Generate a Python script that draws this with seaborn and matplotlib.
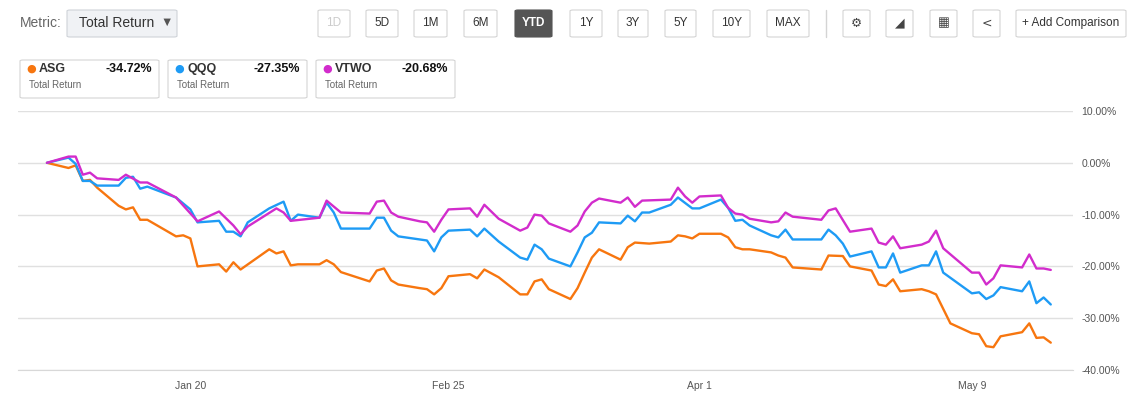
import pandas as pd
import matplotlib
matplotlib.use("Agg")
import matplotlib.pyplot as plt
from matplotlib.patches import FancyBboxPatch
import seaborn as sns

# days since 2021-12-31, total return in %
asg_days = [0, 3, 4, 5, 6, 7, 10, 11, 12, 13, 14, 18, 19, 20, 21, 24, 25, 26, 27, 31, 32, 33, 34, 35, 38, 39, 40, 41,
            45, 46, 47, 48, 49, 52, 53, 54, 55, 56, 59, 60, 61, 63, 66, 67, 68, 69, 70, 73, 74, 75, 76, 77, 80, 81, 82,
            84, 87, 88, 89, 90, 91, 94, 95, 96, 97, 98, 101, 102, 103, 104, 108, 109, 111, 112, 115, 116, 117, 118,
            119, 122, 123, 124, 126, 129, 130, 131, 132, 133, 136, 137, 138, 139, 140]
asg_vals = [0, -1, -0.5, -3.5, -3.3, -4.8, -8.3, -9, -8.6, -11, -11, -14.2, -14, -14.6, -20, -19.6, -21, -19.2, -20.6,
            -16.7, -17.5, -17.1, -19.8, -19.6, -19.6, -18.8, -19.6, -21.1, -22.9, -20.8, -20.4, -22.7, -23.5, -24.2,
            -24.4, -25.4, -24.2, -21.9, -21.5, -22.3, -20.6, -22.1, -25.4, -25.4, -22.9, -22.5, -24.4, -26.3, -24.2,
            -21.2, -18.3, -16.7, -18.7, -16.3, -15.4, -15.6, -15.2, -14, -14.2, -14.6, -13.7, -13.7, -14.4, -16.3,
            -16.7, -16.7, -17.3, -17.9, -18.3, -20.2, -20.6, -17.9, -18, -20, -20.8, -23.5, -23.8, -22.5, -24.8,
            -24.4, -24.8, -25.4, -31, -32.9, -33.1, -35.4, -35.6, -33.5, -32.7, -31, -33.8, -33.7, -34.72]

qqq_days = [0, 3, 4, 5, 6, 7, 10, 11, 12, 13, 14, 18, 20, 21, 24, 25, 26, 27, 28, 31, 33, 34, 35, 38, 39, 40, 41, 45,
            46, 47, 48, 49, 52, 53, 54, 55, 56, 59, 60, 61, 63, 66, 67, 68, 69, 70, 73, 74, 75, 76, 77, 80, 81, 82, 83,
            84, 87, 88, 90, 91, 94, 95, 96, 97, 98, 101, 102, 103, 104, 108, 109, 110, 111, 112, 115, 116, 117, 118,
            119, 122, 123, 124, 125, 129, 130, 131, 132, 133, 136, 137, 138, 139, 140]
qqq_vals = [0, 1, -0.2, -3.5, -3.5, -4.4, -4.4, -2.9, -2.7, -5, -4.6, -6.7, -9, -11.5, -11.2, -13.3, -13.3, -14.2,
            -11.5, -8.8, -7.5, -11.2, -10, -10.6, -7.7, -9.6, -12.7, -12.7, -10.6, -10.6, -13.1, -14.2, -14.8, -15,
            -17.1, -14.4, -13.1, -12.9, -14.2, -12.7, -15.2, -18.3, -18.7, -15.8, -16.7, -18.5, -20, -17.3, -14.4,
            -13.5, -11.5, -11.7, -10.2, -11.3, -9.6, -9.6, -8.1, -6.7, -8.8, -8.8, -7.1, -8.7, -11.2, -11, -12.1,
            -14, -14.4, -12.9, -14.8, -14.8, -12.9, -14, -15.6, -18.1, -17.1, -20.2, -20.2, -17.5, -21.2, -19.8,
            -19.8, -17.1, -21.2, -25.2, -25, -26.3, -25.6, -24, -24.8, -22.9, -27.1, -26, -27.35]

vtwo_days = [0, 3, 4, 5, 6, 7, 10, 11, 13, 14, 18, 21, 24, 26, 27, 28, 32, 33, 34, 38, 39, 41, 45, 46, 47, 48, 49, 52,
             53, 54, 55, 56, 59, 60, 61, 63, 66, 67, 68, 69, 70, 73, 74, 75, 76, 77, 80, 81, 82, 83, 87, 88, 89, 90,
             91, 94, 95, 96, 97, 98, 101, 102, 103, 104, 108, 109, 110, 112, 115, 116, 117, 118, 119, 122, 123, 124,
             125, 129, 130, 131, 132, 133, 136, 137, 138, 139, 140]
vtwo_vals = [0, 1.2, 1.2, -2.3, -1.9, -3, -3.3, -2.3, -3.8, -3.8, -6.7, -11.3, -9.4, -12.1, -13.8, -12.3, -8.8, -9.6,
             -11.2, -10.6, -7.3, -9.6, -9.8, -7.5, -7.3, -9.6, -10.4, -11.3, -11.5, -13.3, -11, -9, -8.8, -10.4, -8.1,
             -10.8, -13.1, -12.5, -10, -10.2, -11.7, -13.3, -12.1, -9.4, -7.7, -6.9, -7.7, -6.7, -8.5, -7.3, -7.1,
             -4.8, -6.5, -7.7, -6.5, -6.3, -8.7, -9.8, -10, -10.8, -11.5, -11.3, -9.6, -10.4, -11, -9.2, -8.8, -13.3,
             -12.7, -15.4, -15.8, -14.2, -16.5, -15.8, -15.2, -13.1, -16.5, -21.2, -21.2, -23.5, -22.3, -19.8, -20.2,
             -17.7, -20.4, -20.4, -20.68]

tickers = ["ASG", "QQQ", "VTWO"]
final_returns = ["-34.72%", "-27.35%", "-20.68%"]
colors = ["#f7760f", "#1e9bf5", "#d22ccc"]
tick_dates = ["2022-01-20", "2022-02-25", "2022-04-01", "2022-05-09"]
tick_labels = ["Jan 20", "Feb 25", "Apr 1", "May 9"]
y_ticks = [10, 0, -10, -20, -30, -40]

start = pd.Timestamp("2021-12-31")
frames = []
for name, days, vals in [("ASG", asg_days, asg_vals), ("QQQ", qqq_days, qqq_vals), ("VTWO", vtwo_days, vtwo_vals)]:
    frames.append(pd.DataFrame({"date": start + pd.to_timedelta(days, unit="D"), "ret": vals, "ticker": name}))
df = pd.concat(frames, ignore_index=True)

sns.set_style("white")
plt.rcParams["font.family"] = ["Liberation Sans", "DejaVu Sans"]

W, H = 1138, 400
fig = plt.figure(figsize=(W / 100, H / 100), dpi=100)


def fx(x):
    return x / W


def fy(y):
    return 1 - y / H


def box(x0, x1, y0, y1, fc="white", ec="#d4d4d4", r=3):
    fig.patches.append(FancyBboxPatch((fx(x0), fy(y1)), fx(x1 - x0), (y1 - y0) / H,
                                      boxstyle=f"round,pad=0,rounding_size={r / W}", fc=fc, ec=ec, lw=0.8,
                                      transform=fig.transFigure, figure=fig))


# header toolbar
fig.text(fx(20), fy(23), "Metric:", fontsize=10, color="#666666", va="center")
box(67, 177, 10, 37, fc="#f0f2f5", ec="#cfd3d8")
fig.text(fx(79), fy(23), "Total Return", fontsize=10, color="#333333", va="center")
fig.text(fx(160), fy(23), "▼", fontsize=9, color="#555555", va="center")

buttons = [("1D", 318, 350), ("5D", 366, 398), ("1M", 414, 447), ("6M", 464, 497), ("YTD", 515, 552),
           ("1Y", 570, 602), ("3Y", 618, 648), ("5Y", 665, 696), ("10Y", 713, 750), ("MAX", 767, 809)]
for lab, x0, x1 in buttons:
    active = lab == "YTD"
    box(x0, x1, 10, 37, fc="#555555" if active else "white", ec="#555555" if active else "#d4d4d4")
    col = "white" if active else ("#cccccc" if lab == "1D" else "#333333")
    fig.text(fx((x0 + x1) / 2), fy(23), lab, fontsize=8.5, color=col, ha="center", va="center",
             fontweight="bold" if active else "normal")
fig.lines.append(plt.Line2D([fx(826), fx(826)], [fy(10), fy(37)], color="#d4d4d4", lw=1, transform=fig.transFigure))
for x0, x1, sym in [(843, 870, "⚙"), (886, 913, "◢"), (930, 957, "▦"), (973, 1000, "<")]:
    box(x0, x1, 10, 37)
    fig.text(fx((x0 + x1) / 2), fy(23), sym, fontsize=9, color="#444444", ha="center", va="center",
             family=["DejaVu Sans"])
box(1016, 1126, 10, 37)
fig.text(fx(1071), fy(23), "+ Add Comparison", fontsize=8.5, color="#333333", ha="center", va="center")

# legend cards
for i, (t, r, c) in enumerate(zip(tickers, final_returns, colors)):
    x0 = 20 + i * 148
    box(x0, x0 + 139, 60, 98)
    fig.text(fx(x0 + 11), fy(69), "●", color=c, fontsize=8, ha="center", va="center", family=["DejaVu Sans"])
    fig.text(fx(x0 + 19), fy(69), t, fontsize=9, fontweight="bold", color="#333333", va="center")
    fig.text(fx(x0 + 132), fy(69), r, fontsize=9, fontweight="bold", color="#111111", va="center", ha="right")
    fig.text(fx(x0 + 9), fy(85), "Total Return", fontsize=7, color="#666666", va="center")

# chart
ax = fig.add_axes([fx(18), fy(370), fx(1073 - 18), (370 - 111) / H])
sns.lineplot(data=df, x="date", y="ret", hue="ticker", palette=dict(zip(tickers, colors)), lw=1.7, ax=ax,
             legend=False)
ax.set_xlim(start - pd.Timedelta(days=4.04), start + pd.Timedelta(days=143.1))
ax.set_ylim(-40, 10)
ax.set_yticks(y_ticks)
ax.set_yticklabels([f"{v:.2f}%" for v in y_ticks])
ax.yaxis.tick_right()
ax.tick_params(axis="y", length=0, labelsize=7.5, labelcolor="#555555", pad=6)
ax.set_xticks(pd.to_datetime(tick_dates))
ax.set_xticklabels(tick_labels)
ax.tick_params(axis="x", length=6, color="#dddddd", labelsize=7.5, labelcolor="#555555", pad=2)
ax.grid(axis="y", color="#e0e0e0", lw=1)
ax.set_xlabel("")
ax.set_ylabel("")
for s in ["top", "left", "right"]:
    ax.spines[s].set_visible(False)
ax.spines["bottom"].set_color("#d8d8d8")

fig.savefig("out.png", dpi=100)
